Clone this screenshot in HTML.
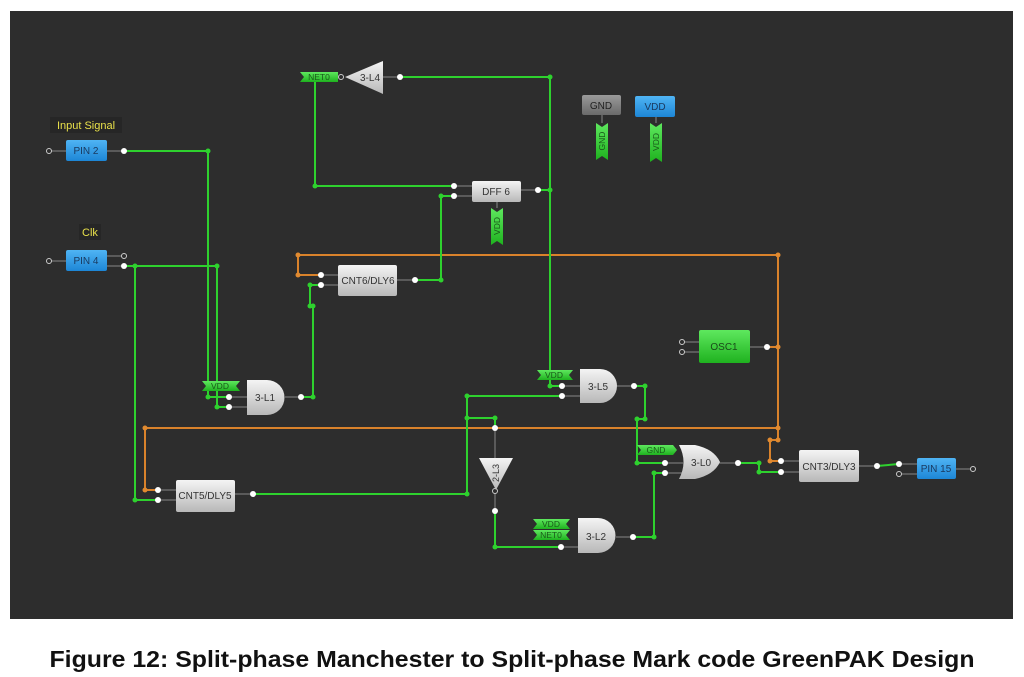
<!DOCTYPE html>
<html><head><meta charset="utf-8"><style>
html,body{margin:0;padding:0;background:#fff;}
svg{display:block;}
text{font-family:"Liberation Sans",sans-serif;}
</style></head><body>
<svg width="1024" height="677" viewBox="0 0 1024 677" xmlns="http://www.w3.org/2000/svg">
<defs>
<linearGradient id="gw" x1="0" y1="0" x2="0" y2="1"><stop offset="0" stop-color="#f4f4f4"/><stop offset="1" stop-color="#b8b8b8"/></linearGradient>
<linearGradient id="gb" x1="0" y1="0" x2="0" y2="1"><stop offset="0" stop-color="#4fb4f4"/><stop offset="1" stop-color="#1d86d6"/></linearGradient>
<linearGradient id="gg" x1="0" y1="0" x2="0" y2="1"><stop offset="0" stop-color="#5ee85e"/><stop offset="1" stop-color="#1fb21f"/></linearGradient>
<linearGradient id="gy" x1="0" y1="0" x2="0" y2="1"><stop offset="0" stop-color="#9a9a9a"/><stop offset="1" stop-color="#6a6a6a"/></linearGradient>
</defs>
<rect x="10" y="11" width="1003" height="608" fill="#2d2d2d"/>

<!-- orange wires -->
<g stroke="#d9822b" stroke-width="2" fill="none">
<polyline points="298,255 778,255 778,440 770,440 770,461 781,461"/>
<polyline points="298,255 298,275 321,275"/>
<polyline points="767,347 778,347"/>
<polyline points="778,428 145,428 145,490 158,490"/>
</g>
<g fill="#e08a30">
<circle cx="298" cy="255" r="2.5"/><circle cx="298" cy="275" r="2.5"/><circle cx="778" cy="255" r="2.5"/><circle cx="778" cy="347" r="2.5"/><circle cx="778" cy="428" r="2.5"/><circle cx="778" cy="440" r="2.5"/><circle cx="770" cy="440" r="2.5"/><circle cx="770" cy="461" r="2.5"/><circle cx="145" cy="428" r="2.5"/><circle cx="145" cy="490" r="2.5"/>
</g>

<!-- green wires -->
<g stroke="#2ed12e" stroke-width="2" fill="none">
<polyline points="124,151 208,151 208,397 229,397"/>
<polyline points="124,266 217,266 217,407 229,407"/>
<polyline points="135,266 135,500 158,500"/>
<polyline points="301,397 313,397 313,306 310,306 310,285 321,285"/>
<polyline points="415,280 441,280 441,196 454,196"/>
<polyline points="315,82 315,186 454,186"/>
<polyline points="400,77 550,77 550,386 562,386"/>
<polyline points="538,190 550,190"/>
<polyline points="253,494 467,494 467,396 562,396"/>
<polyline points="467,418 495,418 495,428"/>
<polyline points="495,511 495,547 561,547"/>
<polyline points="634,386 645,386 645,419 637,419 637,463 665,463"/>
<polyline points="633,537 654,537 654,473 665,473"/>
<polyline points="738,463 759,463 759,472 781,472"/>
<polyline points="877,466 899,464"/>
</g>
<g fill="#2ed12e">
<circle cx="208" cy="151" r="2.5"/><circle cx="217" cy="266" r="2.5"/><circle cx="135" cy="266" r="2.5"/><circle cx="135" cy="500" r="2.5"/><circle cx="208" cy="397" r="2.5"/><circle cx="217" cy="407" r="2.5"/><circle cx="313" cy="397" r="2.5"/><circle cx="313" cy="306" r="2.5"/><circle cx="310" cy="306" r="2.5"/><circle cx="310" cy="285" r="2.5"/><circle cx="441" cy="280" r="2.5"/><circle cx="441" cy="196" r="2.5"/><circle cx="315" cy="186" r="2.5"/><circle cx="550" cy="77" r="2.5"/><circle cx="550" cy="190" r="2.5"/><circle cx="550" cy="386" r="2.5"/><circle cx="467" cy="494" r="2.5"/><circle cx="467" cy="396" r="2.5"/><circle cx="467" cy="418" r="2.5"/><circle cx="495" cy="418" r="2.5"/><circle cx="495" cy="547" r="2.5"/><circle cx="645" cy="386" r="2.5"/><circle cx="645" cy="419" r="2.5"/><circle cx="637" cy="419" r="2.5"/><circle cx="637" cy="463" r="2.5"/><circle cx="654" cy="537" r="2.5"/><circle cx="654" cy="473" r="2.5"/><circle cx="759" cy="463" r="2.5"/><circle cx="759" cy="472" r="2.5"/>
</g>

<!-- stubs gray -->
<g stroke="#888" stroke-width="1">
<line x1="49" y1="151" x2="66" y2="151"/><line x1="107" y1="151" x2="124" y2="151"/>
<line x1="49" y1="261" x2="66" y2="261"/><line x1="107" y1="256" x2="124" y2="256"/><line x1="107" y1="266" x2="124" y2="266"/>
<line x1="229" y1="397" x2="247" y2="397"/><line x1="229" y1="407" x2="247" y2="407"/><line x1="285" y1="397" x2="301" y2="397"/>
<line x1="321" y1="275" x2="338" y2="275"/><line x1="321" y1="285" x2="338" y2="285"/><line x1="397" y1="280" x2="415" y2="280"/>
<line x1="454" y1="186" x2="472" y2="186"/><line x1="454" y1="196" x2="472" y2="196"/><line x1="521" y1="190" x2="538" y2="190"/>
<line x1="383" y1="77" x2="400" y2="77"/>
<line x1="682" y1="342" x2="699" y2="342"/><line x1="682" y1="352" x2="699" y2="352"/><line x1="750" y1="347" x2="767" y2="347"/>
<line x1="562" y1="386" x2="580" y2="386"/><line x1="562" y1="396" x2="580" y2="396"/><line x1="617" y1="386" x2="634" y2="386"/>
<line x1="158" y1="490" x2="176" y2="490"/><line x1="158" y1="500" x2="176" y2="500"/><line x1="235" y1="494" x2="253" y2="494"/>
<line x1="495" y1="428" x2="495" y2="458"/><line x1="495" y1="494" x2="495" y2="511"/>
<line x1="561" y1="547" x2="578" y2="547"/><line x1="616" y1="537" x2="633" y2="537"/>
<line x1="665" y1="463" x2="683" y2="463"/><line x1="665" y1="473" x2="683" y2="473"/><line x1="719" y1="463" x2="738" y2="463"/>
<line x1="781" y1="461" x2="799" y2="461"/><line x1="781" y1="472" x2="799" y2="472"/><line x1="859" y1="466" x2="877" y2="466"/>
<line x1="899" y1="464" x2="917" y2="464"/><line x1="899" y1="474" x2="917" y2="474"/><line x1="956" y1="469" x2="973" y2="469"/>
<line x1="602" y1="115" x2="602" y2="123"/><line x1="656" y1="117" x2="656" y2="123"/><line x1="497" y1="202" x2="497" y2="208"/>
</g>

<!-- white dots -->
<g fill="#fff">
<circle cx="124" cy="151" r="3"/><circle cx="124" cy="266" r="3"/><circle cx="229" cy="397" r="3"/><circle cx="229" cy="407" r="3"/><circle cx="301" cy="397" r="3"/><circle cx="321" cy="275" r="3"/><circle cx="321" cy="285" r="3"/><circle cx="415" cy="280" r="3"/><circle cx="454" cy="186" r="3"/><circle cx="454" cy="196" r="3"/><circle cx="538" cy="190" r="3"/><circle cx="400" cy="77" r="3"/><circle cx="767" cy="347" r="3"/><circle cx="562" cy="386" r="3"/><circle cx="562" cy="396" r="3"/><circle cx="634" cy="386" r="3"/><circle cx="158" cy="490" r="3"/><circle cx="158" cy="500" r="3"/><circle cx="253" cy="494" r="3"/><circle cx="495" cy="428" r="3"/><circle cx="495" cy="511" r="3"/><circle cx="561" cy="547" r="3"/><circle cx="633" cy="537" r="3"/><circle cx="665" cy="463" r="3"/><circle cx="665" cy="473" r="3"/><circle cx="738" cy="463" r="3"/><circle cx="781" cy="461" r="3"/><circle cx="781" cy="472" r="3"/><circle cx="877" cy="466" r="3"/><circle cx="899" cy="464" r="3"/>
</g>
<g fill="#2d2d2d" stroke="#ccc" stroke-width="1">
<circle cx="49" cy="151" r="2.5"/><circle cx="49" cy="261" r="2.5"/><circle cx="124" cy="256" r="2.5"/><circle cx="341" cy="77" r="2.5"/><circle cx="682" cy="342" r="2.5"/><circle cx="682" cy="352" r="2.5"/><circle cx="495" cy="491" r="2.5"/><circle cx="899" cy="474" r="2.5"/><circle cx="973" cy="469" r="2.5"/>
</g>

<!-- labels -->
<rect x="50" y="117" width="72" height="16" fill="#262626"/>
<text x="86" y="129" font-size="11" fill="#e8e04a" text-anchor="middle">Input Signal</text>
<rect x="79" y="224" width="22" height="16" fill="#262626"/>
<text x="90" y="236" font-size="11" fill="#e8e04a" text-anchor="middle">Clk</text>

<!-- blocks -->
<g font-size="10" text-anchor="middle">
<rect x="66" y="140" width="41" height="21" rx="2" fill="url(#gb)"/><text x="86" y="154" fill="#1a3a60">PIN 2</text>
<rect x="66" y="250" width="41" height="21" rx="2" fill="url(#gb)"/><text x="86" y="264" fill="#1a3a60">PIN 4</text>
<rect x="917" y="458" width="39" height="21" rx="2" fill="url(#gb)"/><text x="936" y="472" fill="#1a3a60">PIN 15</text>
<rect x="338" y="265" width="59" height="31" rx="2" fill="url(#gw)"/><text x="368" y="284" fill="#333">CNT6/DLY6</text>
<rect x="472" y="181" width="49" height="21" rx="2" fill="url(#gw)"/><text x="496" y="195" fill="#333">DFF 6</text>
<rect x="176" y="480" width="59" height="32" rx="2" fill="url(#gw)"/><text x="205" y="499" fill="#333">CNT5/DLY5</text>
<rect x="799" y="450" width="60" height="32" rx="2" fill="url(#gw)"/><text x="829" y="470" fill="#333">CNT3/DLY3</text>
<rect x="699" y="330" width="51" height="33" rx="2" fill="url(#gg)"/><text x="724" y="350" fill="#1a4a1a">OSC1</text>
<rect x="582" y="95" width="39" height="20" rx="2" fill="url(#gy)"/><text x="601" y="109" fill="#222">GND</text>
<rect x="635" y="96" width="40" height="21" rx="2" fill="url(#gb)"/><text x="655" y="110" fill="#1a3a60">VDD</text>
<path d="M247,380 H267 A17.5,17.5 0 0 1 267,415 H247 Z" fill="url(#gw)"/><text x="265" y="401" fill="#333">3-L1</text>
<path d="M580,369 H600 A17,17 0 0 1 600,403 H580 Z" fill="url(#gw)"/><text x="598" y="390" fill="#333">3-L5</text>
<path d="M578,518 H598 A17.5,17.5 0 0 1 598,553 H578 Z" fill="url(#gw)"/><text x="596" y="540" fill="#333">3-L2</text>
<path d="M679,445 H695 Q714,449 720,462 Q714,475 695,479 H679 Q688,462 679,445 Z" fill="url(#gw)"/><text x="701" y="466" fill="#333">3-L0</text>
<polygon points="345,77 383,61 383,94" fill="url(#gw)"/><text x="370" y="81" fill="#333">3-L4</text>
<polygon points="479,458 513,458 496,490" fill="url(#gw)"/><text transform="translate(499,473) rotate(-90)" fill="#333" font-size="9">2-L3</text>
</g>

<!-- net tags -->
<g font-size="8.5" text-anchor="middle" fill="#1a5a1a">
<path d="M300,72 H338 V82 H300 L304,77 Z" fill="url(#gg)"/><text x="319" y="80">NET0</text>
<path d="M202,381 H240 L236,386 L240,391 H202 L206,386 Z" fill="url(#gg)"/><text x="220" y="389">VDD</text>
<path d="M537,370 H573 L569,375 L573,380 H537 L541,375 Z" fill="url(#gg)"/><text x="554" y="378">VDD</text>
<path d="M533,519 H570 L566,524 L570,529 H533 L537,524 Z" fill="url(#gg)"/><text x="551" y="527">VDD</text>
<path d="M533,530 H570 L566,535 L570,540 H533 L537,535 Z" fill="url(#gg)"/><text x="551" y="538">NET0</text>
<path d="M637,445 H673 L677,450 L673,455 H637 L641,450 Z" fill="url(#gg)"/><text x="656" y="453">GND</text>
<path d="M596,123 L602,127 L608,123 V160 L602,156 L596,160 Z" fill="url(#gg)"/><text transform="translate(605,141) rotate(-90)">GND</text>
<path d="M650,123 L656,127 L662,123 V162 L656,158 L650,162 Z" fill="url(#gg)"/><text transform="translate(659,142) rotate(-90)">VDD</text>
<path d="M491,208 L497,212 L503,208 V245 L497,241 L491,245 Z" fill="url(#gg)"/><text transform="translate(500,226) rotate(-90)">VDD</text>
</g>

<text x="512" y="667" font-size="23" font-weight="bold" fill="#111" text-anchor="middle" textLength="925" lengthAdjust="spacingAndGlyphs">Figure 12: Split-phase Manchester to Split-phase Mark code GreenPAK Design</text>
</svg>
</body></html>
